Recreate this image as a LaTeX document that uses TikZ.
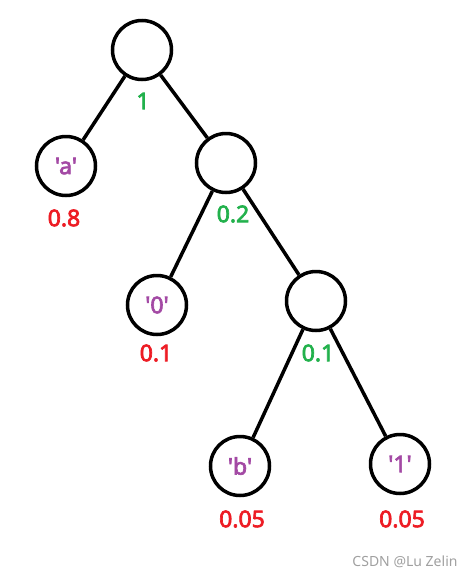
\documentclass[tikz,border=0pt]{standalone}
\usepackage{fontspec}
\setmainfont{Noto Sans}
\newfontfamily\labfont{Noto Sans}[FakeBold=3]
\definecolor{pgreen}{HTML}{22B14C}
\definecolor{pred}{HTML}{ED1C24}
\definecolor{ppurple}{HTML}{A349A4}
\definecolor{wmgray}{HTML}{A0A0A0}
\newcommand{\sq}{\symbol{39}}
\begin{document}
\begin{tikzpicture}[x=1pt,y=-1pt,
  tnode/.style={circle,draw=black,line width=3.5pt,minimum size=59pt,inner sep=0pt,
    font=\labfont\fontsize{23}{26}\selectfont,text=ppurple},
  edge/.style={line width=3.5pt},
  glab/.style={font=\labfont\fontsize{23}{26}\selectfont,text=pgreen,inner sep=0pt},
  rlab/.style={font=\labfont\fontsize{23}{26}\selectfont,text=pred,inner sep=0pt}]
\useasboundingbox (0,0) rectangle (469,576);
\node[tnode] (r) at (142,50) {};
\node[tnode] (a) at (66,166) {\sq a\sq};
\node[tnode] (n2) at (226,163) {};
\node[tnode] (z) at (157,305) {\sq 0\sq};
\node[tnode] (n1) at (316,301) {};
\node[tnode] (b) at (240,466) {\sq b\sq};
\node[tnode] (o) at (400,464) {\sq 1\sq};
\draw[edge] (r) -- (a);
\draw[edge] (r) -- (n2);
\draw[edge] (n2) -- (z);
\draw[edge] (n2) -- (n1);
\draw[edge] (n1) -- (b);
\draw[edge] (n1) -- (o);
\node[glab] (lr) at (143,101) {1};
\node[rlab] (la) at (64,218) {0.8};
\node[glab] (l2) at (233,214) {0.2};
\node[rlab] (lz) at (156,353) {0.1};
\node[glab] (l1) at (318,353) {0.1};
\node[rlab] (lb) at (242,519) {0.05};
\node[rlab] (lo) at (402,519) {0.05};
\node[font=\fontsize{14}{16}\selectfont,text=wmgray,inner sep=0pt] (wm) at (405,562) {CSDN @Lu Zelin};
\end{tikzpicture}
\end{document}
